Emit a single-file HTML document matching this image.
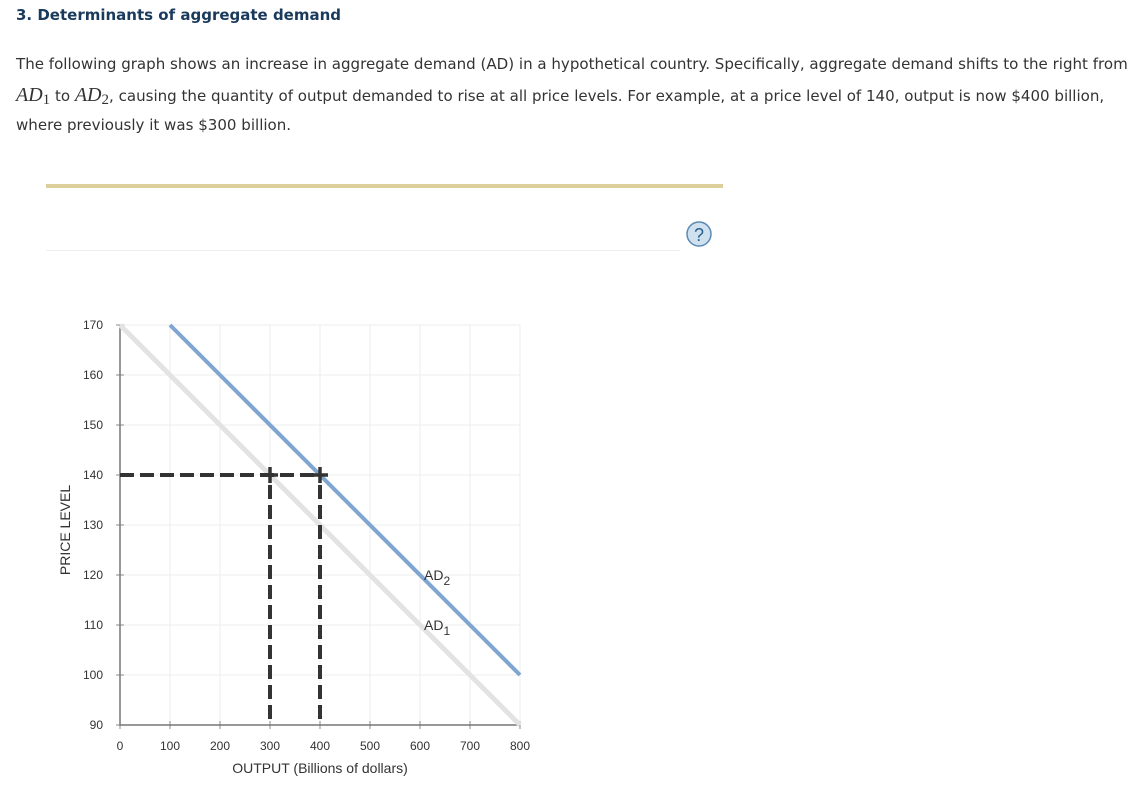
<!DOCTYPE html>
<html><head><meta charset="utf-8"><style>
body{margin:0;width:1141px;height:785px;background:#fff;position:relative;overflow:hidden;font-family:"DejaVu Sans","Liberation Sans",sans-serif;}
.h{position:absolute;left:16px;top:6px;font-size:15px;font-weight:bold;color:#1a3a5c;}
.p{position:absolute;left:16px;font-size:15.05px;color:#333;white-space:nowrap;}
.m{font-family:"Liberation Serif",serif;font-style:italic;font-size:20px;}
.s{font-family:"Liberation Serif",serif;font-size:15px;position:relative;top:3px;}
</style></head><body>
<div class="h">3. Determinants of aggregate demand</div>
<div class="p" style="top:55px">The following graph shows an increase in aggregate demand (AD) in a hypothetical country. Specifically, aggregate demand shifts to the right from</div>
<div class="p" style="top:84px"><span class="m">AD</span><span class="s">1</span> to <span class="m">AD</span><span class="s">2</span>, causing the quantity of output demanded to rise at all price levels. For example, at a price level of 140, output is now $400 billion,</div>
<div class="p" style="top:116px">where previously it was $300 billion.</div>
<div style="position:absolute;left:46px;top:184px;width:677px;height:4px;background:#dccf9c"></div>
<div style="position:absolute;left:46px;top:250px;width:634px;height:1px;background:#eee"></div>
<svg style="position:absolute;left:0;top:0" width="1141" height="785" id="chart">
<g><circle cx="699" cy="234" r="12" fill="#cfe0ef" stroke="#5b8ab5" stroke-width="1.5"/><text x="699" y="241" text-anchor="middle" font-size="18" fill="#2c5f8a" font-family="Liberation Sans, sans-serif">?</text></g>
</svg>
<script>
const xTicks=[0,100,200,300,400,500,600,700,800];
const yTicks=[90,100,110,120,130,140,150,160,170];
const ad1X=[0,800], ad1Y=[170,90];
const ad2X=[100,800], ad2Y=[170,100];
const refPrice=140, refOut1=300, refOut2=400;
const svg=document.getElementById('chart'),NS='http://www.w3.org/2000/svg';
const X=v=>120+v*0.5, Y=v=>725-(v-90)*5;
function el(t,a,p){const e=document.createElementNS(NS,t);for(const k in a)e.setAttribute(k,a[k]);(p||svg).appendChild(e);return e;}
const F='Liberation Sans, sans-serif';
xTicks.forEach(v=>{if(v>0){const g=el('line',{x1:X(v),x2:X(v),y1:325,y2:725,stroke:'#eee'});

}
const t=el('line',{x1:X(v),x2:X(v),y1:721,y2:729,stroke:'#888'});


const l=el('text',{x:X(v),y:750,'text-anchor':'middle','font-size':12,'font-family':F,fill:'#333'});l.textContent=v;

});
yTicks.forEach(v=>{if(v>90){const g=el('line',{x1:120,x2:520,y1:Y(v),y2:Y(v),stroke:'#eee'});

}
const t=el('line',{x1:116,x2:124,y1:Y(v),y2:Y(v),stroke:'#888'});


const l=el('text',{x:103,y:Y(v)+4,'text-anchor':'end','font-size':12,'font-family':F,fill:'#333'});l.textContent=v;

});
const ax=el('path',{d:'M120 325V725H520',fill:'none',stroke:'#777','stroke-width':1.5});


const a1=el('line',{x1:X(ad1X[0]),y1:Y(ad1Y[0]),x2:X(ad1X[1]),y2:Y(ad1Y[1]),stroke:'#e3e3e3','stroke-width':5});


const a2=el('line',{x1:X(ad2X[0]),y1:Y(ad2Y[0]),x2:X(ad2X[1]),y2:Y(ad2Y[1]),stroke:'#7ea6d0','stroke-width':4});


const dash={stroke:'#333','stroke-width':4,'stroke-dasharray':'14 6',fill:'none'};
const h=el('line',Object.assign({x1:120,y1:Y(refPrice),x2:X(refOut2),y2:Y(refPrice)},dash));


[refOut1,refOut2].forEach(o=>{const v=el('line',Object.assign({x1:X(o),y1:Y(refPrice)+10,x2:X(o),y2:725},dash));


const c=el('path',{d:`M${X(o)-8} ${Y(refPrice)}H${X(o)+8}M${X(o)} ${Y(refPrice)-8}V${Y(refPrice)+8}`,stroke:'#333','stroke-width':3.5});

});
function lab(txt,sub,x,y,n){const t=el('text',{x:x,y:y,'font-size':14,'font-family':F,fill:'#333'});t.textContent=txt;
const s=el('tspan',{dy:5,'font-size':12},t);s.textContent=sub;

}
lab('AD','2',424,580,'ad2-label');lab('AD','1',424,630,'ad1-label');
const xt=el('text',{x:320,y:773,'text-anchor':'middle','font-size':14,'font-family':F,fill:'#333'});xt.textContent='OUTPUT (Billions of dollars)';


const yt=el('text',{x:0,y:0,'text-anchor':'middle','font-size':14,'font-family':F,fill:'#333',transform:'translate(70,530) rotate(-90)'});yt.textContent='PRICE LEVEL';


</script>
</body></html>
